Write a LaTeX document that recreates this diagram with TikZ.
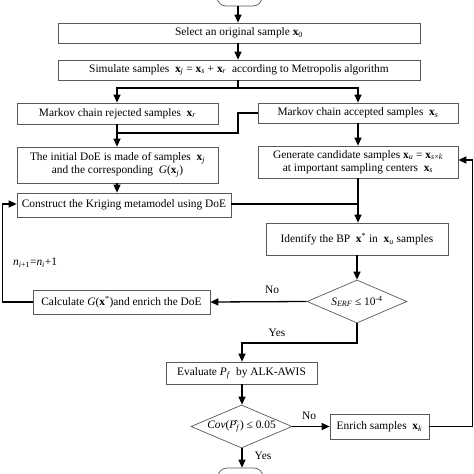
\documentclass[tikz,border=0pt]{standalone}
\usepackage{amsmath}
\usepackage{fontspec}
\setmainfont{Liberation Serif}
\usetikzlibrary{shapes.geometric,arrows.meta}
\newcommand\bxv[1]{\textbf{x}\textsubscript{\textit{#1}}}
\begin{document}
\begin{tikzpicture}[x=1pt,y=-1pt,
  font=\fontsize{11.4}{13}\selectfont,
  box/.style={draw=black!65,line width=0.7pt,rectangle,inner sep=0pt,align=center},
  term/.style={box,rounded corners=9pt},
  dia/.style={draw=black!65,line width=0.7pt,diamond,aspect=2.3,inner sep=0pt,minimum width=100pt,minimum height=43pt},
  conn/.style={line width=1.3pt,draw=black},
  arr/.style={conn,-{Triangle[length=8pt,width=7pt]}},
  lbl/.style={inner sep=0pt}]
\useasboundingbox (0,0) rectangle (474,474);
\clip (0,0) rectangle (474,474);
\fill[white] (0,0) rectangle (474,474);

\node[term,minimum width=45pt,minimum height=22pt] (start) at (239.5,-5) {Start};
\node[box,minimum width=362pt,minimum height=20pt] (b1) at (239,33) {Select an original sample \textbf{x}\textsubscript{0}};
\node[box,minimum width=362pt,minimum height=20pt] (b2) at (239,70) {Simulate samples\enspace \bxv{j} = \bxv{s} + \bxv{r}\enspace according to Metropolis algorithm};
\node[box,minimum width=201pt,minimum height=21pt] (b3) at (117.5,113.5) {Markov chain rejected samples\enspace \bxv{r}};
\node[box,minimum width=200pt,minimum height=20pt] (b4) at (358,113) {Markov chain accepted samples\enspace \bxv{s}};
\node[box,minimum width=201pt,minimum height=36pt] (b5) at (117.5,165) {The initial DoE is made of samples\enspace \bxv{j}\\and the corresponding\enspace \textit{G}(\bxv{j})};
\node[box,minimum width=200pt,minimum height=32pt] (b6) at (358,162) {Generate candidate samples \bxv{u} = \textbf{x}\textsubscript{\textit{s}×\textit{k}}\\at important sampling centers\enspace \bxv{s}};
\node[box,minimum width=214pt,minimum height=24pt] (b7) at (124,205) {Construct the Kriging metamodel using DoE};
\node[box,minimum width=182pt,minimum height=32pt] (b8) at (357,239) {Identify the BP\enspace \textbf{x}\textsuperscript{*} in\enspace \bxv{u} samples};
\node[dia] (d1) at (357,301.5) {\textit{S}\textsubscript{\textit{ERF}} ≤ 10\textsuperscript{-4}};
\node[box,minimum width=177pt,minimum height=24pt] (b9) at (121.5,302) {Calculate \textit{G}(\textbf{x}\textsuperscript{*})and enrich the DoE};
\node[box,minimum width=151pt,minimum height=22pt] (b10) at (241.5,373) {Evaluate \textit{P}\textsubscript{\textit{f}}\enspace by ALK-AWIS};
\node[dia,minimum width=101pt] (d2) at (241.5,426.5) {\textit{Cov}(\^{\textit{P}}\textsubscript{\textit{f}}) ≤ 0.05};
\node[box,minimum width=99pt,minimum height=25pt] (b11) at (379.5,426.5) {Enrich samples\enspace \bxv{k}};
\node[term,minimum width=45pt,minimum height=22pt] (end) at (240.5,479) {End};

% connectors
\draw[arr] (start.south -| 238,0) -- (b1.north -| 238,0);
\draw[arr] (b1.south -| 238,0) -- (b2.north -| 238,0);
\coordinate (sp) at (238,88);
\draw[conn] (b2.south -| sp) -- (sp);
\draw[arr] (sp) -| (b3.north -| 117,0);
\draw[arr] (sp) -| (b4.north);
\coordinate (jn) at (117,133);
\draw[conn] (b4.west) -- (238,113) -- (238,133) -- (jn);
\draw[conn] (b3.south -| jn) -- (jn);
\draw[arr] (jn) -- (b5.north -| jn);
\draw[arr] (b4.south) -- (b6.north -| b4.south);
\draw[arr] (b5.south -| jn) -- (b7.north -| jn);
\coordinate (jn2) at (358,204);
\draw[conn] (b7.east |- jn2) -- (jn2);
\draw[conn] (b6.south -| jn2) -- (jn2);
\draw[arr] (jn2) -- (b8.north -| jn2);
\draw[arr] (b8.south -| d1.north) -- (d1.north);
\draw[arr] (d1.west) -- (b9.east);
\node[lbl] (no1) at (272,290) {No};
\coordinate (lp) at (2.5,204);
\draw[arr] (b9.west) -- (lp |- b9.west) -- (lp) -- (b7.west |- lp);
\node[lbl,anchor=west] (nlbl) at (13,263) {\textit{n}\textsubscript{\textit{i}+1}=\textit{n}\textsubscript{\textit{i}}+1};
\coordinate (y1) at (242,343);
\draw[arr] (d1.south) -- (d1.south |- y1) -- (y1) -- (b10.north -| y1);
\node[lbl] (yes1) at (277,333) {Yes};
\draw[arr] (b10.south -| 242,0) -- (d2.north -| 242,0);
\draw[arr] (d2.east) -- (b11.west);
\node[lbl] (no2) at (309,416) {No};
\coordinate (rp) at (472.5,160);
\draw[arr] (b11.east) -- (rp |- b11.east) -- (rp) -- (b6.east |- rp);
\draw[arr] (d2.south -| 242,0) -- (end.north -| 242,0);
\node[lbl] (yes2) at (263,456) {Yes};
\end{tikzpicture}
\end{document}
